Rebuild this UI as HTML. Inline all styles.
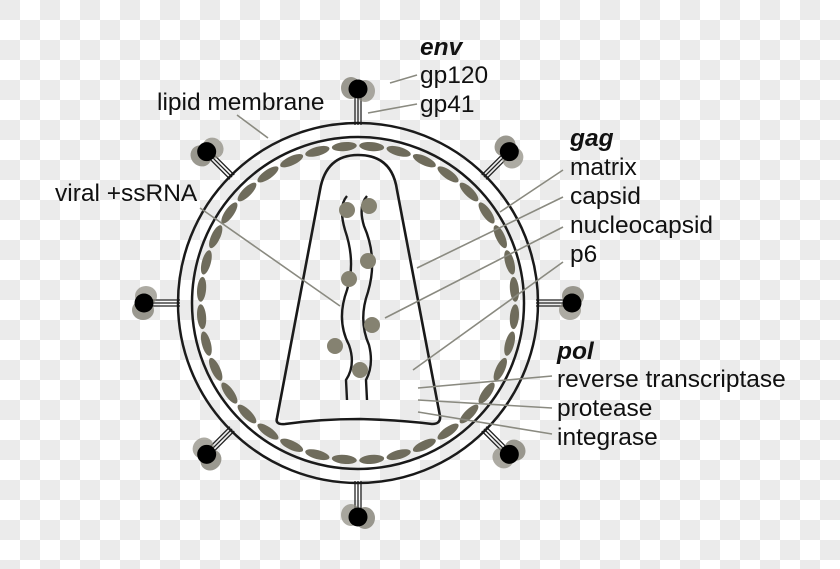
<!DOCTYPE html>
<html><head><meta charset="utf-8"><style>
html,body{margin:0;padding:0;}
body{width:840px;height:569px;overflow:hidden;
background-color:#fff;
background-image:linear-gradient(45deg,#ebebeb 25%,transparent 25%,transparent 75%,#ebebeb 75%),linear-gradient(45deg,#ebebeb 25%,transparent 25%,transparent 75%,#ebebeb 75%);
background-size:40px 40px;background-position:20px 0,0 20px;}
svg{position:absolute;left:0;top:0;}
text{font-family:"Liberation Sans",sans-serif;font-size:24.5px;fill:#111;}
</style></head><body>
<svg width="840" height="569" viewBox="0 0 840 569">
<defs>
<g id="spike">
 <line x1="-3" y1="-178" x2="-3" y2="-212" stroke="#222" stroke-width="1.3"/>
 <line x1="0" y1="-178" x2="0" y2="-212" stroke="#222" stroke-width="1.3"/>
 <line x1="3" y1="-178" x2="3" y2="-212" stroke="#222" stroke-width="1.3"/>
 <ellipse cx="-7" cy="-215" rx="10" ry="11" fill="#8a877c" opacity="0.85"/>
 <ellipse cx="7" cy="-212" rx="10" ry="11" fill="#8a877c" opacity="0.7"/>
 <circle cx="0" cy="-214" r="9.5" fill="#000"/>
</g>
</defs>
<g transform="translate(358,303)">
 <use href="#spike" transform="rotate(0)"/>
 <use href="#spike" transform="rotate(45)"/>
 <use href="#spike" transform="rotate(90)"/>
 <use href="#spike" transform="rotate(135)"/>
 <use href="#spike" transform="rotate(180)"/>
 <use href="#spike" transform="rotate(225)"/>
 <use href="#spike" transform="rotate(270)"/>
 <use href="#spike" transform="rotate(315)"/>
 <circle r="180" fill="none" stroke="#1a1a1a" stroke-width="2.5"/>
 <circle r="166" fill="none" stroke="#1a1a1a" stroke-width="2.5"/>
 <g id="beads" fill="#6f6c5c">
 </g>
</g>
<path d="M277,418 L320,190 Q326,155 358,155 Q392,155 397,190 L440,416 Q441,424 432,424 Q400,420 360,419 Q320,419 285,424 Q275,425 277,418 Z" fill="none" stroke="#1a1a1a" stroke-width="2.6"/>
<path d="M347,196 Q338,206 345,230 Q356,262 347,290 Q336,320 349,345 Q356,365 346,380 L347,400" fill="none" stroke="#1a1a1a" stroke-width="2.4"/>
<path d="M367,196 Q358,206 364,226 Q378,258 368,292 Q358,320 369,345 Q374,365 366,380 L367,400" fill="none" stroke="#1a1a1a" stroke-width="2.4"/>
<g fill="#858271">
<circle cx="347" cy="210" r="8"/><circle cx="369" cy="206" r="8"/>
<circle cx="368" cy="261" r="8"/><circle cx="349" cy="279" r="8"/>
<circle cx="372" cy="325" r="8"/><circle cx="335" cy="346" r="8"/>
<circle cx="360" cy="370" r="8"/>
</g>
<g stroke="#8a8a80" stroke-width="1.6">
<line x1="417" y1="75" x2="390" y2="83"/>
<line x1="417" y1="104" x2="368" y2="113"/>
<line x1="237" y1="115" x2="268" y2="138"/>
<line x1="200" y1="208" x2="340" y2="306"/>
<line x1="563" y1="170" x2="500" y2="212"/>
<line x1="563" y1="197" x2="417" y2="268"/>
<line x1="563" y1="227" x2="385" y2="318"/>
<line x1="563" y1="262" x2="413" y2="370"/>
<line x1="552" y1="376" x2="418" y2="388"/>
<line x1="552" y1="408" x2="418" y2="400"/>
<line x1="552" y1="434" x2="418" y2="412"/>
</g>
<text x="420" y="55" style="font-weight:bold;font-style:italic">env</text>
<text x="420" y="83">gp120</text>
<text x="420" y="112">gp41</text>
<text x="157" y="110">lipid membrane</text>
<text x="570" y="146" style="font-weight:bold;font-style:italic">gag</text>
<text x="570" y="175">matrix</text>
<text x="570" y="204">capsid</text>
<text x="570" y="233">nucleocapsid</text>
<text x="570" y="262">p6</text>
<text x="55" y="201">viral +ssRNA</text>
<text x="557" y="359" style="font-weight:bold;font-style:italic">pol</text>
<text x="557" y="387">reverse transcriptase</text>
<text x="557" y="416">protease</text>
<text x="557" y="445">integrase</text>
</svg>
<script>
var g=document.getElementById('beads'),s='';
for(var i=0;i<36;i++){var a=i*10+5;
s+='<ellipse cx="0" cy="-157" rx="12.5" ry="4.5" transform="rotate('+a+')"/>';}
g.innerHTML=s;
</script>
</body></html>
